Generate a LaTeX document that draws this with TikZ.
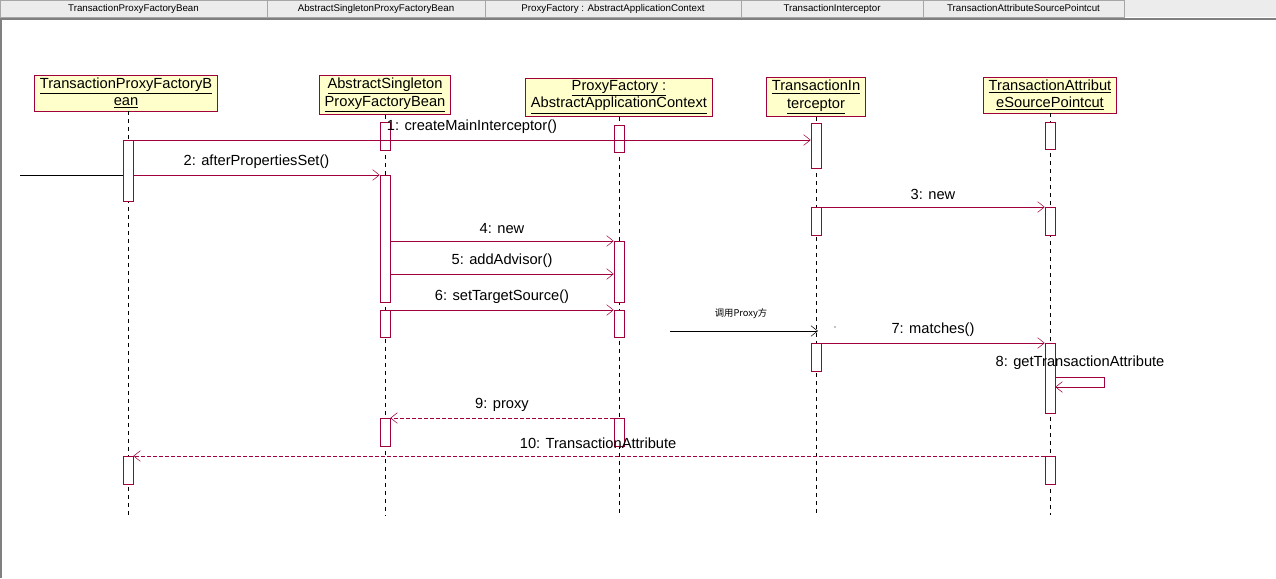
\documentclass[tikz,border=0pt]{standalone}
\usepackage{fontspec}
\setmainfont{Liberation Sans}
\newfontfamily\cjk{Noto Sans CJK SC}
\usetikzlibrary{arrows.meta,positioning}
\definecolor{umlred}{RGB}{160,0,60}
\definecolor{umlyellow}{RGB}{255,255,204}
\definecolor{bargray}{RGB}{236,236,236}
\tikzset{
  obj/.style={draw=umlred, fill=umlyellow, align=center, font=\fontsize{11}{13}\selectfont, inner xsep=4pt, inner ysep=2pt},
  act/.style={draw=umlred, fill=white, minimum width=7.5pt, inner sep=0pt},
  life/.style={dashed, dash pattern=on 3pt off 3pt, black},
  msg/.style={umlred, -{Straight Barb[length=5pt,width=8pt]}},
  ret/.style={msg, dashed, dash pattern=on 2.5pt off 2pt},
  lbl/.style={text=black, font=\fontsize{11}{13}\selectfont, inner sep=0pt},
  hdr/.style={font=\fontsize{7.3}{8}\selectfont}
}
% activation bar: name, x, top, bottom
\newcommand{\actbar}[4]{\node[act, minimum height={(#4-#3)*0.75pt}, anchor=north] (#1) at (#2,#3) {};}
\begin{document}
\begin{tikzpicture}[x=0.75pt, y=-0.75pt]
\useasboundingbox (0,0) rectangle (1276,578);
% header bar
\fill[bargray] (0,0) rectangle (1276,17);
\foreach \xa/\xb/\txt in {0/267/TransactionProxyFactoryBean, 267/485/AbstractSingletonProxyFactoryBean, 485/741/ProxyFactory : AbstractApplicationContext, 741/923/TransactionInterceptor, 923/1124/TransactionAttributeSourcePointcut}{
  \draw[gray!70] (\xa,0) rectangle (\xb,17);
  \node[hdr] (h\xa) at ({(\xa+\xb)/2},8.5) {\txt};
}
\draw[gray, line width=1.5pt] (0,19) -- (1276,19);
\draw[gray, line width=1pt] (1,19) -- (1,578);

% objects
\node[obj] (tpfb) at (126,93) {\underline{TransactionProxyFactoryB}\\\underline{ean}};
\node[obj] (aspfb) at (385,95) {\underline{AbstractSingleton}\\\underline{ProxyFactoryBean}};
\node[obj] (pf) at (619,97) {\underline{ProxyFactory :}\\\underline{AbstractApplicationContext}};
\node[obj] (ti) at (816,97) {\underline{TransactionIn}\\\underline{terceptor}};
\node[obj] (tasp) at (1050,95) {\underline{TransactionAttribut}\\\underline{eSourcePointcut}};

% lifelines
\foreach \o/\x in {tpfb/128, aspfb/385, pf/619, ti/816, tasp/1050}
  \draw[life] (\o.south -| \x,0) -- (\x,515);

% activations
\actbar{a1}{128}{140}{201}
\actbar{a2}{128}{456}{484}
\actbar{b1}{385}{122}{150}
\actbar{b2}{385}{175}{302}
\actbar{b3}{385}{310}{337}
\actbar{b4}{385}{418}{446}
\actbar{c1}{619}{125}{152}
\actbar{c2}{619}{241}{302}
\actbar{c3}{619}{310}{337}
\actbar{c4}{619}{418}{446}
\actbar{d1}{816}{123}{168}
\actbar{d2}{816}{207}{235}
\actbar{d3}{816}{343}{371}
\actbar{e1}{1050}{122}{149}
\actbar{e2}{1050}{207}{235}
\actbar{e3}{1050}{343}{413}
\actbar{e4}{1050}{456}{484}

% messages
\draw[msg] (a1.east |- 0,140) -- (d1.west |- 0,140) node[lbl, midway, above=5pt] {1: createMainInterceptor()};
\coordinate (start2) at (20,175);
\draw[black] (start2) -- (a1.west |- 0,175);
\draw[msg] (a1.east |- 0,175) -- (b2.west |- 0,175) node[lbl, midway, above=5pt] {2: afterPropertiesSet()};
\draw[msg] (d2.east |- 0,207) -- (e2.west |- 0,207) node[lbl, midway, above=5pt] {3: new};
\draw[msg] (b2.east |- 0,241) -- (c2.west |- 0,241) node[lbl, midway, above=5pt] {4: new};
\draw[msg] (b2.east |- 0,274) -- (c2.west |- 0,274) node[lbl, midway, above=5pt] {5: addAdvisor()};
\draw[msg] (b3.east |- 0,310) -- (c3.west |- 0,310) node[lbl, midway, above=5pt] {6: setTargetSource()};
\coordinate (start7) at (670,331);
\coordinate (end7) at (818,331);
\draw[black, -{Straight Barb[length=5pt,width=8pt]}] (start7) -- (end7) node[font=\cjk\fontsize{7}{8}\selectfont, pos=0.48, above=6pt] (call) {调用Proxy方};
\fill (835,327) circle (0.5pt);
\draw[msg] (d3.east |- 0,343) -- (e3.west |- 0,343) node[lbl, midway, above=5pt] {7: matches()};
\node[lbl] (l8) at (1080,363) {8: getTransactionAttribute};
\coordinate (self8) at (1104,377);
\draw[msg] (e3.east |- 0,377) -- (self8) -- (1104,387) -- (e3.east |- 0,387);
\draw[ret] (c4.west |- 0,418) -- (b4.east |- 0,418) node[lbl, midway, above=5pt] {9: proxy};
\draw[ret] (e4.west |- 0,456) -- (a2.east |- 0,456) node[lbl, pos=0.49, above=5pt] {10: TransactionAttribute};
\end{tikzpicture}
\end{document}
